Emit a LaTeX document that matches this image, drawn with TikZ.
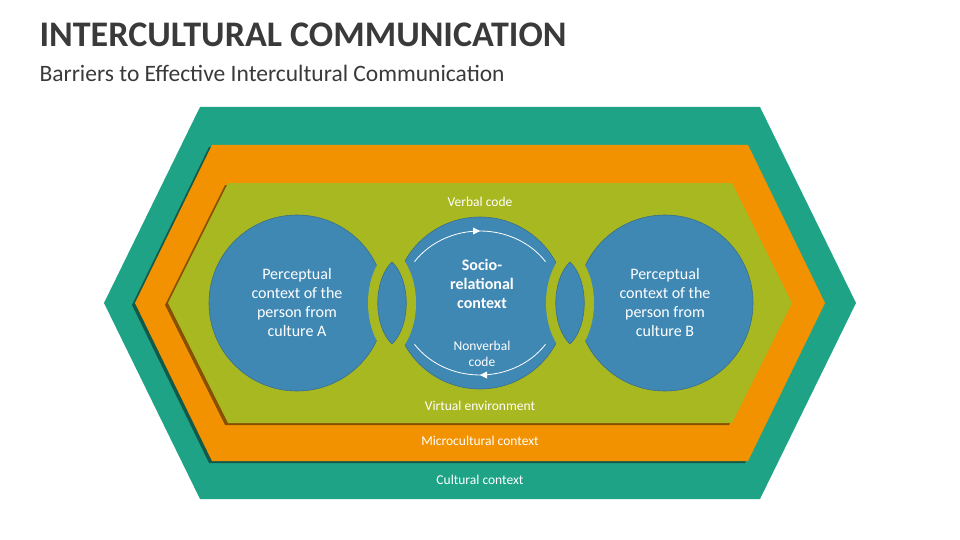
\documentclass[tikz,border=0pt]{standalone}
\usepackage{fontspec}
\setmainfont{Carlito}
\usetikzlibrary{decorations.markings,arrows.meta}
\definecolor{teal1}{HTML}{1FA386}
\definecolor{orng}{HTML}{F39200}
\definecolor{grn}{HTML}{A8B820}
\definecolor{blu}{HTML}{3F88B4}
\definecolor{bluedge}{HTML}{3A6E8C}
\definecolor{ttl}{HTML}{3A3A3A}
\begin{document}
\begin{tikzpicture}[x=1pt,y=-1pt,
  lbl/.style={text=white,font=\fontsize{13.5}{16}\selectfont,align=center},
  big/.style={text=white,font=\fontsize{16}{19}\selectfont,align=center},
  blob/.style={fill=blu,draw=bluedge,line width=0.6pt},
  flow/.style={white,line width=0.8pt,postaction={decorate},decoration={markings,mark=at position 0.5 with {\arrow{Triangle[length=7pt,width=7pt]}}}}]
\useasboundingbox (0,0) rectangle (960,540);
\newcommand{\hexa}[4]{\fill[#4] (480-#1,#2) -- (480+#1,#2) -- (480+#3,303) -- (480+#1,606-#2) -- (480-#1,606-#2) -- (480-#3,303) -- cycle;}
\node[anchor=west,text=ttl,font=\fontsize{36}{40}\selectfont\bfseries] (title) at (36,35) {INTERCULTURAL COMMUNICATION};
\node[anchor=west,text=ttl,font=\fontsize{23.5}{27}\selectfont] (sub) at (36,73) {Barriers to Effective Intercultural Communication};
\hexa{280}{107}{376}{teal1}
\begin{scope}[shift={(-3,2)}]\hexa{268}{145}{345}{teal1!55!black}\end{scope}
\hexa{268}{145}{345}{orng}
\begin{scope}[shift={(-3,2)}]\hexa{252}{183}{312}{orng!55!black}\end{scope}
\hexa{252}{183}{312}{grn}
\draw[blob] (297,303) circle (88);
\draw[blob] (480,303) circle (86);
\draw[blob] (665,303) circle (88);
\foreach \g in {392,570}{
  \fill[grn] (\g,248) .. controls (\g-32,270) and (\g-32,336) .. (\g,358) .. controls (\g+32,336) and (\g+32,270) .. (\g,248) -- cycle;
  \draw[blob] (\g,262) .. controls (\g-19,280) and (\g-19,326) .. (\g,344) .. controls (\g+19,326) and (\g+19,280) .. (\g,262) -- cycle;
}
\draw[flow] (480,303) ++(215:80 and 72) arc[start angle=215,end angle=325,x radius=80,y radius=72];
\draw[flow] (480,303) ++(35:80 and 72) arc[start angle=35,end angle=145,x radius=80,y radius=72];
\node[big] (a) at (297,303) {Perceptual\\context of the\\person from\\culture A};
\node[big] (b) at (665,303) {Perceptual\\context of the\\person from\\culture B};
\node[big,font=\fontsize{16}{19}\selectfont\bfseries] (s) at (482,284) {Socio-\\relational\\context};
\node[lbl] (n) at (482,354) {Nonverbal\\code};
\node[lbl] (v) at (480,202) {Verbal code};
\node[lbl] (ve) at (480,406) {Virtual environment};
\node[lbl] (m) at (480,441) {Microcultural context};
\node[lbl] (c) at (480,480) {Cultural context};
\end{tikzpicture}
\end{document}
